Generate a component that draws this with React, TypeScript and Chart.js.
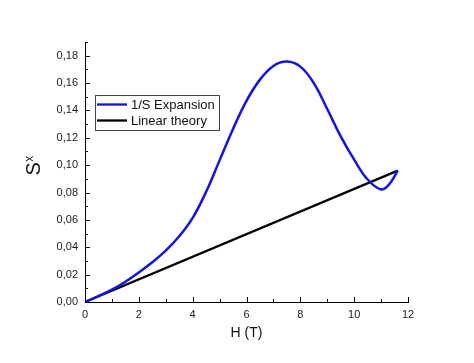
import React, { useEffect, useRef } from "react";
import { Chart, registerables } from "chart.js";

Chart.register(...registerables);

// 1/S Expansion curve
const expansionH = [0, 0.5, 1, 1.5, 2, 2.5, 3, 3.5, 4, 4.5, 5, 5.5, 6, 6.5, 7, 7.5, 8, 8.5, 9, 9.5, 10, 10.5, 11, 11.3, 11.62];
const expansionS = [0, 0.0043, 0.009, 0.0148, 0.0216, 0.029, 0.0375, 0.048, 0.0615, 0.0805, 0.1035, 0.1265, 0.147, 0.1625, 0.1725, 0.1757, 0.172, 0.16, 0.141, 0.121, 0.104, 0.0895, 0.0822, 0.086, 0.096];

// Linear theory
const linearH = [0, 11.62];
const linearS = [0, 0.096];

const xTickMax = 12;
const yTickMax = 0.19;
const seriesLabels = ["1/S Expansion", "Linear theory"];
const seriesColors = ["#1414dc", "#000000"];
const xTitle = "H (T)";
const yTitleMain = "S";
const yTitleSup = "x";

const FONT = "'Liberation Sans', Arial, sans-serif";

const decorPlugin = {
  id: "decor",
  afterDraw(chart: any) {
    const ctx = chart.ctx;
    const xs = chart.scales.x;
    const ys = chart.scales.y;
    const area = chart.chartArea;
    ctx.save();
    // inward ticks
    ctx.strokeStyle = "#000";
    ctx.lineWidth = 1;
    for (let v = 0; v <= xTickMax + 1e-9; v += 1) {
      const px = Math.round(xs.getPixelForValue(v)) + 0.5;
      const len = v % 2 === 0 ? 5 : 3;
      ctx.beginPath();
      ctx.moveTo(px, area.bottom);
      ctx.lineTo(px, area.bottom - len);
      ctx.stroke();
    }
    for (let i = 0; i <= Math.round(yTickMax * 100); i++) {
      const v = i / 100;
      const py = Math.round(ys.getPixelForValue(v)) + 0.5;
      const len = i % 2 === 0 ? 5 : 3;
      ctx.beginPath();
      ctx.moveTo(area.left, py);
      ctx.lineTo(area.left + len, py);
      ctx.stroke();
    }
    // y title with superscript
    ctx.fillStyle = "#111";
    ctx.translate(40, 175.5);
    ctx.rotate(-Math.PI / 2);
    ctx.textBaseline = "alphabetic";
    ctx.textAlign = "left";
    ctx.font = `20px ${FONT}`;
    ctx.fillText(yTitleMain, 0, 0);
    const sw = ctx.measureText(yTitleMain).width;
    ctx.font = `12px ${FONT}`;
    ctx.fillText(yTitleSup, sw + 0.5, -7.5);
    ctx.setTransform(1, 0, 0, 1, 0, 0);
    // legend
    const bx = 95.5, by = 95.5, bw = 124, bh = 35;
    ctx.strokeStyle = "#444";
    ctx.lineWidth = 1;
    ctx.strokeRect(bx, by, bw, bh);
    const rows = [104.5, 120.5];
    chart.data.datasets.forEach((ds: any, i: number) => {
      ctx.strokeStyle = ds.borderColor;
      ctx.lineWidth = 2.3;
      ctx.beginPath();
      ctx.moveTo(97, rows[i]);
      ctx.lineTo(127, rows[i]);
      ctx.stroke();
      ctx.fillStyle = "#111";
      ctx.font = `13px ${FONT}`;
      ctx.textBaseline = "middle";
      ctx.fillText(ds.label, 131, rows[i] + 0.5);
    });
    ctx.restore();
  },
};

export default function App() {
  const ref = useRef<HTMLCanvasElement>(null);
  useEffect(() => {
    if (!ref.current) return;
    const chart = new Chart(ref.current, {
      type: "line",
      data: {
        datasets: [
          {
            label: seriesLabels[0],
            data: expansionH.map((h, i) => ({ x: h, y: expansionS[i] })),
            borderColor: seriesColors[0],
            borderWidth: 2.5,
            pointRadius: 0,
            tension: 0.4,
            fill: false,
          },
          {
            label: seriesLabels[1],
            data: linearH.map((h, i) => ({ x: h, y: linearS[i] })),
            borderColor: seriesColors[1],
            borderWidth: 2.2,
            pointRadius: 0,
            fill: false,
          },
        ],
      },
      options: {
        responsive: false,
        animation: false,
        layout: { padding: { left: 0, top: 42, right: 66, bottom: 0 } },
        plugins: { legend: { display: false }, tooltip: { enabled: false } },
        scales: {
          x: {
            type: "linear",
            min: 0,
            max: xTickMax,
            grid: { display: false, drawTicks: false, tickLength: 0 },
            border: { display: true, color: "#000", width: 1 },
            ticks: {
              stepSize: 2,
              padding: 6,
              color: "#1a1a1a",
              font: { family: FONT, size: 11 },
              maxRotation: 0,
            },
            title: {
              display: true,
              text: xTitle,
              color: "#111",
              font: { family: FONT, size: 14 },
              padding: { top: 4, bottom: 21 },
            },
            afterFit(scale: any) {
              scale.height = 61;
            },
          },
          y: {
            type: "linear",
            min: 0,
            max: yTickMax,
            grid: { display: false, drawTicks: false, tickLength: 0 },
            border: { display: true, color: "#000", width: 1 },
            ticks: {
              stepSize: 0.02,
              includeBounds: false,
              padding: 7,
              color: "#1a1a1a",
              font: { family: FONT, size: 11 },
              callback: (v: any) => {
                const n = Number(v);
                if (Math.abs(n * 50 - Math.round(n * 50)) > 1e-6) return null;
                return n.toFixed(2).replace(".", ",");
              },
            },
            afterFit(scale: any) {
              scale.width = 85;
            },
          },
        },
      },
      plugins: [decorPlugin],
    } as any);
    return () => chart.destroy();
  }, []);
  return (
    <div style={{ position: "absolute", left: 0, top: 0, width: 474, height: 363, background: "#fff" }}>
      <canvas ref={ref} width={474} height={363} style={{ display: "block" }} />
    </div>
  );
}
